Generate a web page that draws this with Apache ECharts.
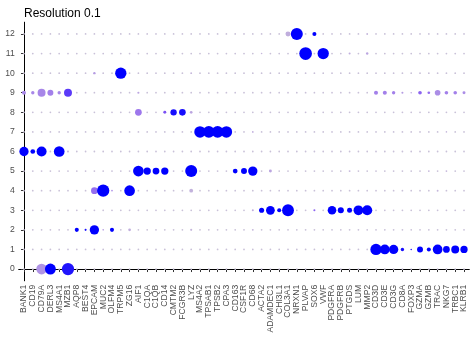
<!DOCTYPE html>
<html>
<head>
<meta charset="utf-8">
<script src="https://cdn.jsdelivr.net/npm/echarts@6/dist/echarts.min.js"></script>
<style>
  html, body { margin: 0; padding: 0; background: #fff; }
  #chart { width: 474px; height: 338px; }
</style>
</head>
<body>
<div id="chart"></div>
<script>
// Marker genes along the x axis
const genes = ['BANK1','CD19','CD79A','DERL3','MS4A1','MZB1','AQP8','BEST4','EPCAM','MUC2',
  'OLFM4','TRPM5','ZG16','AIF1','C1QA','C1QB','CD14','CMTM2','FCGR3B','LYZ','MS4A2','TPSAB1',
  'TPSB2','CPA3','CD163','CSF1R','CD68','ACTA2','ADAMDEC1','CHI3L1','COL3A1','NRXN1','PLVAP',
  'SOX6','VWF','PDGFRA','PDGFRB','PTGDS','LUM','MMP2','CD3D','CD3E','CD3G','CD8A','FOXP3',
  'GZMA','GZMB','TRAC','NKG7','TRBC1','KLRB1'];

// Cluster ids on the y axis
const clusters = ['0','1','2','3','4','5','6','7','8','9','10','11','12'];

// Baseline for genes barely detected in a cluster: [percent expressed, scaled avg expression]
const baseline = [13, 0.1];

// Per-cluster dots: [gene, percent expressed, scaled avg expression (0-1)]
const c0 = [['CD79A',79,0.35],['DERL3',81,1],['MZB1',91,0.93]];
const c1 = [['CD3D',84,1],['CD3E',72,1],['CD3G',69,1],['CD8A',25,0.95],['FOXP3',12,0.9],
  ['GZMA',44,1],['GZMB',30,1],['TRAC',72,1],['NKG7',50,1],['TRBC1',59,1],['KLRB1',54,1]];
const c2 = [['AQP8',30,1],['BEST4',15,0.95],['EPCAM',69,1],['MUC2',12,0.3],['OLFM4',30,1],
  ['ZG16',20,0.2],['LYZ',16,0.15],['CD68',14,0.15]];
const c3 = [['CD68',15,0.2],['ACTA2',38,1],['ADAMDEC1',65,1],['CHI3L1',30,1],['COL3A1',88,1],
  ['SOX6',15,0.6],['PDGFRA',64,1],['PDGFRB',45,1],['PTGDS',37,1],['LUM',72,1],['MMP2',75,1]];
const c4 = [['EPCAM',50,0.55],['MUC2',91,1],['OLFM4',12,0.4],['ZG16',79,1],['LYZ',28,0.18],
  ['TRAC',14,0.15]];
const c5 = [['AIF1',79,1],['C1QA',54,1],['C1QB',50,1],['CD14',54,1],['LYZ',89,1],['CD163',35,1],
  ['CSF1R',44,1],['CD68',69,1],['ADAMDEC1',22,0.25],['PTGDS',14,0.15],['GZMB',13,0.15],
  ['NKG7',13,0.15]];
const c6 = [['BANK1',69,1],['CD19',35,1],['CD79A',74,1],['MS4A1',79,1],['MZB1',14,0.2]];
const c7 = [['MS4A2',85,1],['TPSAB1',88,1],['TPSB2',88,1],['CPA3',85,1],['CD68',13,0.2],
  ['NKG7',12,0.15]];
const c8 = [['AIF1',50,0.5],['CD14',22,0.7],['CMTM2',47,0.95],['FCGR3B',49,0.95],['LYZ',20,0.25]];
const c9 = [['BANK1',30,0.42],['CD19',25,0.42],['CD79A',59,0.42],['DERL3',44,0.45],['MS4A1',25,0.42],
  ['MZB1',59,0.8],['AIF1',16,0.25],['CD3D',30,0.45],['CD3E',30,0.45],['CD3G',25,0.45],
  ['CD8A',15,0.3],['FOXP3',10,0.25],['GZMA',27,0.6],['GZMB',20,0.55],['TRAC',42,0.38],
  ['NKG7',27,0.45],['TRBC1',27,0.45],['KLRB1',22,0.38]];
const c10 = [['EPCAM',18,0.3],['TRPM5',84,1],['LYZ',14,0.15]];
const c11 = [['PLVAP',94,1],['VWF',84,1],['PTGDS',15,0.2],['MMP2',18,0.25],['ACTA2',12,0.15]];
const c12 = [['COL3A1',37,0.2],['NRXN1',89,1],['SOX6',30,1],['MMP2',14,0.15]];

const byCluster = [c0,c1,c2,c3,c4,c5,c6,c7,c8,c9,c10,c11,c12];

// Build [x index, y index, pct, exp]; background dots first so detected genes sit on top
const lowDots = [];
const highDots = [];
byCluster.forEach((rows, ci) => {
  const seen = {};
  rows.forEach(r => { seen[r[0]] = r; });
  genes.forEach((g, gi) => {
    if (seen[g]) highDots.push([gi, ci, seen[g][1], seen[g][2]]);
    else lowDots.push([gi, ci, baseline[0], baseline[1]]);
  });
});
const allDots = lowDots.concat(highDots);

const font = 'Liberation Sans, Arial, Helvetica, sans-serif';
const chart = echarts.init(document.getElementById('chart'), null, { renderer: 'canvas' });

const idx = (n) => Array.from({ length: n }, (_, i) => i);

chart.setOption({
  animation: false,
  backgroundColor: '#ffffff',
  title: {
    text: 'Resolution 0.1',
    left: 19, top: 3,
    textStyle: { fontFamily: font, fontSize: 12, fontWeight: 'normal', color: '#000' }
  },
  grid: { left: 18.7, right: 4.7, top: 22.2, bottom: 57.2, containLabel: false },
  xAxis: {
    type: 'value', min: -0.6, max: 50.6,
    splitLine: { show: false },
    axisLine: { show: true, lineStyle: { color: '#000', width: 1 } },
    axisTick: { show: true, length: 3, lineStyle: { color: '#333' }, customValues: idx(genes.length) },
    axisLabel: {
      customValues: idx(genes.length),
      formatter: (v) => genes[Math.round(v)] || '',
      rotate: 90, margin: 4,
      fontFamily: font, fontSize: 8.6, color: '#4d4d4d'
    }
  },
  yAxis: {
    type: 'value', min: -0.6, max: 12.6,
    splitLine: { show: false },
    axisLine: { show: true, lineStyle: { color: '#000', width: 1 } },
    axisTick: { show: true, length: 3, lineStyle: { color: '#333' }, customValues: idx(clusters.length) },
    axisLabel: {
      customValues: idx(clusters.length),
      formatter: (v) => clusters[Math.round(v)] || '',
      margin: 4,
      fontFamily: font, fontSize: 8.6, color: '#4d4d4d'
    }
  },
  visualMap: {
    show: false, type: 'continuous', dimension: 3, min: 0, max: 1, seriesIndex: 0,
    inRange: { color: ['#d3d3d3', '#bba5e0', '#9d77ec', '#7248f6', '#0000ff'] }
  },
  series: [{
    type: 'scatter',
    data: allDots,
    symbol: 'circle',
    symbolSize: (val) => Math.max(1.5, val[2] * 0.135),
    itemStyle: { opacity: 1 },
    silent: true
  }]
});
</script>
</body>
</html>
